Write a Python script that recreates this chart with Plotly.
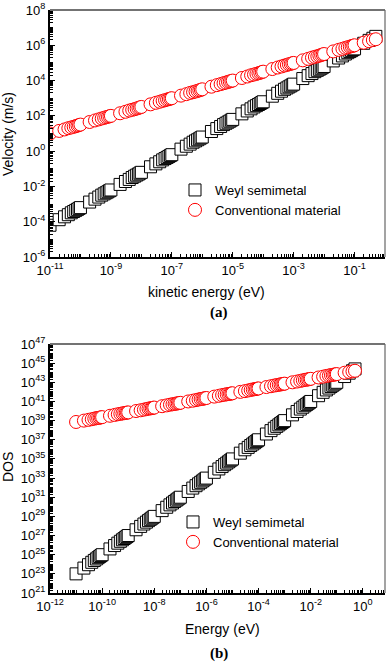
import plotly.graph_objects as go

W, H = 388, 664

# ---------------- data ----------------
# panel (a): kinetic energy (eV)
energy_a = [
    1e-11, 2e-11, 3e-11, 4e-11, 5e-11, 6e-11, 7e-11, 8e-11, 9e-11,
    1e-10, 2e-10, 3e-10, 4e-10, 5e-10, 6e-10, 7e-10, 8e-10, 9e-10,
    1e-9, 2e-9, 3e-9, 4e-9, 5e-9, 6e-9, 7e-9, 8e-9, 9e-9,
    1e-8, 2e-8, 3e-8, 4e-8, 5e-8, 6e-8, 7e-8, 8e-8, 9e-8,
    1e-7, 2e-7, 3e-7, 4e-7, 5e-7, 6e-7, 7e-7, 8e-7, 9e-7,
    1e-6, 2e-6, 3e-6, 4e-6, 5e-6, 6e-6, 7e-6, 8e-6, 9e-6,
    1e-5, 2e-5, 3e-5, 4e-5, 5e-5, 6e-5, 7e-5, 8e-5, 9e-5,
    1e-4, 2e-4, 3e-4, 4e-4, 5e-4, 6e-4, 7e-4, 8e-4, 9e-4,
    1e-3, 2e-3, 3e-3, 4e-3, 5e-3, 6e-3, 7e-3, 8e-3, 9e-3,
    1e-2, 2e-2, 3e-2, 4e-2, 5e-2, 6e-2, 7e-2, 8e-2, 9e-2,
    0.1, 0.2, 0.3, 0.4, 0.5,
]
velocity_weyl = [
    6.3e-5, 1.3e-4, 1.9e-4, 2.5e-4, 3.2e-4, 3.8e-4, 4.4e-4, 5.0e-4, 5.7e-4,
    6.3e-4, 1.3e-3, 1.9e-3, 2.5e-3, 3.2e-3, 3.8e-3, 4.4e-3, 5.0e-3, 5.7e-3,
    6.3e-3, 1.3e-2, 1.9e-2, 2.5e-2, 3.2e-2, 3.8e-2, 4.4e-2, 5.0e-2, 5.7e-2,
    6.3e-2, 1.3e-1, 1.9e-1, 2.5e-1, 3.2e-1, 3.8e-1, 4.4e-1, 5.0e-1, 5.7e-1,
    6.3e-1, 1.3e0, 1.9e0, 2.5e0, 3.2e0, 3.8e0, 4.4e0, 5.0e0, 5.7e0,
    6.3e0, 1.3e1, 1.9e1, 2.5e1, 3.2e1, 3.8e1, 4.4e1, 5.0e1, 5.7e1,
    6.3e1, 1.3e2, 1.9e2, 2.5e2, 3.2e2, 3.8e2, 4.4e2, 5.0e2, 5.7e2,
    6.3e2, 1.3e3, 1.9e3, 2.5e3, 3.2e3, 3.8e3, 4.4e3, 5.0e3, 5.7e3,
    6.3e3, 1.3e4, 1.9e4, 2.5e4, 3.2e4, 3.8e4, 4.4e4, 5.0e4, 5.7e4,
    6.3e4, 1.3e5, 1.9e5, 2.5e5, 3.2e5, 3.8e5, 4.4e5, 5.0e5, 5.7e5,
    6.3e5, 1.3e6, 1.9e6, 2.5e6, 3.2e6,
]
velocity_conv = [
    10, 14, 17, 20, 22, 24, 26, 28, 30,
    32, 45, 55, 63, 71, 77, 84, 89, 95,
    100, 140, 170, 200, 220, 240, 260, 280, 300,
    320, 450, 550, 630, 710, 770, 840, 890, 950,
    1.0e3, 1.4e3, 1.7e3, 2.0e3, 2.2e3, 2.4e3, 2.6e3, 2.8e3, 3.0e3,
    3.2e3, 4.5e3, 5.5e3, 6.3e3, 7.1e3, 7.7e3, 8.4e3, 8.9e3, 9.5e3,
    1.0e4, 1.4e4, 1.7e4, 2.0e4, 2.2e4, 2.4e4, 2.6e4, 2.8e4, 3.0e4,
    3.2e4, 4.5e4, 5.5e4, 6.3e4, 7.1e4, 7.7e4, 8.4e4, 8.9e4, 9.5e4,
    1.0e5, 1.4e5, 1.7e5, 2.0e5, 2.2e5, 2.4e5, 2.6e5, 2.8e5, 3.0e5,
    3.2e5, 4.5e5, 5.5e5, 6.3e5, 7.1e5, 7.7e5, 8.4e5, 8.9e5, 9.5e5,
    1.0e6, 1.4e6, 1.7e6, 2.0e6, 2.2e6,
]

# panel (b): energy (eV)
energy_b = list(energy_a)
dos_weyl = [
    1.0e23, 4.0e23, 9.0e23, 1.6e24, 2.5e24, 3.6e24, 4.9e24, 6.4e24, 8.1e24,
    1.0e25, 4.0e25, 9.0e25, 1.6e26, 2.5e26, 3.6e26, 4.9e26, 6.4e26, 8.1e26,
    1.0e27, 4.0e27, 9.0e27, 1.6e28, 2.5e28, 3.6e28, 4.9e28, 6.4e28, 8.1e28,
    1.0e29, 4.0e29, 9.0e29, 1.6e30, 2.5e30, 3.6e30, 4.9e30, 6.4e30, 8.1e30,
    1.0e31, 4.0e31, 9.0e31, 1.6e32, 2.5e32, 3.6e32, 4.9e32, 6.4e32, 8.1e32,
    1.0e33, 4.0e33, 9.0e33, 1.6e34, 2.5e34, 3.6e34, 4.9e34, 6.4e34, 8.1e34,
    1.0e35, 4.0e35, 9.0e35, 1.6e36, 2.5e36, 3.6e36, 4.9e36, 6.4e36, 8.1e36,
    1.0e37, 4.0e37, 9.0e37, 1.6e38, 2.5e38, 3.6e38, 4.9e38, 6.4e38, 8.1e38,
    1.0e39, 4.0e39, 9.0e39, 1.6e40, 2.5e40, 3.6e40, 4.9e40, 6.4e40, 8.1e40,
    1.0e41, 4.0e41, 9.0e41, 1.6e42, 2.5e42, 3.6e42, 4.9e42, 6.4e42, 8.1e42,
    1.0e43, 4.0e43, 9.0e43, 1.6e44, 2.5e44,
]
dos_conv = [
    7.2e38, 1.0e39, 1.2e39, 1.4e39, 1.6e39, 1.8e39, 1.9e39, 2.0e39, 2.2e39,
    2.3e39, 3.2e39, 3.9e39, 4.6e39, 5.1e39, 5.6e39, 6.0e39, 6.4e39, 6.8e39,
    7.2e39, 1.0e40, 1.2e40, 1.4e40, 1.6e40, 1.8e40, 1.9e40, 2.0e40, 2.2e40,
    2.3e40, 3.2e40, 3.9e40, 4.6e40, 5.1e40, 5.6e40, 6.0e40, 6.4e40, 6.8e40,
    7.2e40, 1.0e41, 1.2e41, 1.4e41, 1.6e41, 1.8e41, 1.9e41, 2.0e41, 2.2e41,
    2.3e41, 3.2e41, 3.9e41, 4.6e41, 5.1e41, 5.6e41, 6.0e41, 6.4e41, 6.8e41,
    7.2e41, 1.0e42, 1.2e42, 1.4e42, 1.6e42, 1.8e42, 1.9e42, 2.0e42, 2.2e42,
    2.3e42, 3.2e42, 3.9e42, 4.6e42, 5.1e42, 5.6e42, 6.0e42, 6.4e42, 6.8e42,
    7.2e42, 1.0e43, 1.2e43, 1.4e43, 1.6e43, 1.8e43, 1.9e43, 2.0e43, 2.2e43,
    2.3e43, 3.2e43, 3.9e43, 4.6e43, 5.1e43, 5.6e43, 6.0e43, 6.4e43, 6.8e43,
    7.2e43, 1.0e44, 1.2e44, 1.4e44, 1.6e44,
]

series_names = ["Weyl semimetal", "Conventional material"]

# labelled tick exponents (every second decade) and all decade exponents
xa_label_exp = [-11, -9, -7, -5, -3, -1]
ya_label_exp = [-6, -4, -2, 0, 2, 4, 6, 8]
xb_label_exp = [-12, -10, -8, -6, -4, -2, 0]
yb_label_exp = [21, 23, 25, 27, 29, 31, 33, 35, 37, 39, 41, 43, 45, 47]
xa_decades = list(range(-11, 1))
ya_decades = list(range(-6, 9))
xb_decades = list(range(-12, 1))
yb_decades = list(range(21, 48))

# ---------------- styling ----------------
SANS = "Liberation Sans, Arial, sans-serif"
SERIF = "Liberation Serif, Times New Roman, serif"


def px_x(p):
    return p / W


def px_y(p):
    return 1 - p / H


def labels(exps):
    return [10.0 ** e for e in exps], ["10<sup>%d</sup>" % e for e in exps]


fig = go.Figure()

sq = dict(symbol="square", size=12, color="white", line=dict(color="black", width=1))
ci = dict(symbol="circle", size=13, color="white", line=dict(color="red", width=1))

fig.add_trace(go.Scatter(x=energy_a, y=velocity_weyl, mode="markers", marker=sq,
                         name=series_names[0], xaxis="x", yaxis="y", legend="legend"))
fig.add_trace(go.Scatter(x=energy_a, y=velocity_conv, mode="markers", marker=ci,
                         name=series_names[1], xaxis="x", yaxis="y", legend="legend"))
fig.add_trace(go.Scatter(x=energy_b, y=dos_weyl, mode="markers", marker=sq,
                         name=series_names[0], xaxis="x2", yaxis="y2", legend="legend2"))
fig.add_trace(go.Scatter(x=energy_b, y=dos_conv, mode="markers", marker=ci,
                         name=series_names[1], xaxis="x2", yaxis="y2", legend="legend2"))

xdom = [px_x(50), px_x(385)]
dom_a = [px_y(257), px_y(10)]
dom_b = [px_y(593), px_y(344)]

common = dict(type="log", showline=True, linecolor="black", linewidth=2, mirror=False,
              ticks="inside", ticklen=5, tickwidth=1, tickcolor="black",
              showgrid=False, zeroline=False, automargin=False,
              tickfont=dict(family=SANS, size=13, color="black"),
              tickmode="array",
              minor=dict(ticks="inside", ticklen=3, tickwidth=1, tickcolor="black",
                         dtick="D1", showgrid=False))

# overlay axes that only carry the unlabeled decade ticks
overlay = dict(type="log", showline=False, showgrid=False, zeroline=False,
               ticks="inside", ticklen=5, tickwidth=1, tickcolor="black",
               showticklabels=False, automargin=False, tickmode="array")

xv, xt = labels(xa_label_exp)
yv, yt = labels(ya_label_exp)
xv2, xt2 = labels(xb_label_exp)
yv2, yt2 = labels(yb_label_exp)

fig.update_layout(
    width=W, height=H,
    margin=dict(l=0, r=0, t=0, b=0),
    paper_bgcolor="white", plot_bgcolor="white",
    font=dict(family=SANS, color="black"),
    xaxis=dict(common, domain=xdom, range=[-11, 0], anchor="y", tickvals=xv, ticktext=xt),
    yaxis=dict(common, domain=dom_a, range=[-6, 8], anchor="x", tickvals=yv, ticktext=yt),
    xaxis2=dict(common, domain=xdom, range=[-12, 0.85], anchor="y2", tickvals=xv2, ticktext=xt2),
    yaxis2=dict(common, domain=dom_b, range=[21, 47], anchor="x2", tickvals=yv2, ticktext=yt2),
    xaxis3=dict(overlay, overlaying="x", anchor="y", domain=xdom, range=[-11, 0],
                tickvals=[10.0 ** e for e in xa_decades]),
    yaxis3=dict(overlay, overlaying="y", anchor="x", domain=dom_a, range=[-6, 8],
                tickvals=[10.0 ** e for e in ya_decades]),
    xaxis4=dict(overlay, overlaying="x2", anchor="y2", domain=xdom, range=[-12, 0.85],
                tickvals=[10.0 ** e for e in xb_decades]),
    yaxis4=dict(overlay, overlaying="y2", anchor="x2", domain=dom_b, range=[21, 47],
                tickvals=[10.0 ** e for e in yb_decades]),
    legend=dict(x=px_x(175), y=px_y(175), xanchor="left", yanchor="top",
                bgcolor="rgba(0,0,0,0)", borderwidth=0,
                font=dict(family=SANS, size=13, color="black"), tracegroupgap=0),
    legend2=dict(x=px_x(173), y=px_y(507), xanchor="left", yanchor="top",
                 bgcolor="rgba(0,0,0,0)", borderwidth=0,
                 font=dict(family=SANS, size=13, color="black"), tracegroupgap=0),
    showlegend=True,
)

# frame: thinner grey top and right borders
for xr, yr in (("x domain", "y domain"), ("x2 domain", "y2 domain")):
    fig.add_shape(type="line", xref=xr, yref=yr, x0=0, x1=1, y0=1, y1=1,
                  line=dict(color="#444444", width=1.5), layer="above")
    fig.add_shape(type="line", xref=xr, yref=yr, x0=1, x1=1, y0=0, y1=1,
                  line=dict(color="#666666", width=1.2), layer="above")

ann = [
    ("kinetic energy (eV)", 206, 292, 14, SANS, 0),
    ("Velocity (m/s)", 8, 134, 14, SANS, -90),
    ("Energy (eV)", 222, 629, 14, SANS, 0),
    ("DOS", 8, 467, 14, SANS, -90),
    ("<b>(a)</b>", 219, 312, 15, SERIF, 0),
    ("<b>(b)</b>", 219, 653, 15, SERIF, 0),
]
for text, x, y, size, fam, ang in ann:
    fig.add_annotation(text=text, x=px_x(x), y=px_y(y), xref="paper", yref="paper",
                       showarrow=False, xanchor="center", yanchor="middle", textangle=ang,
                       font=dict(family=fam, size=size, color="black"))

fig.write_html("out.html", config={"displayModeBar": False},
               post_script="document.body.style.margin='0px';")
